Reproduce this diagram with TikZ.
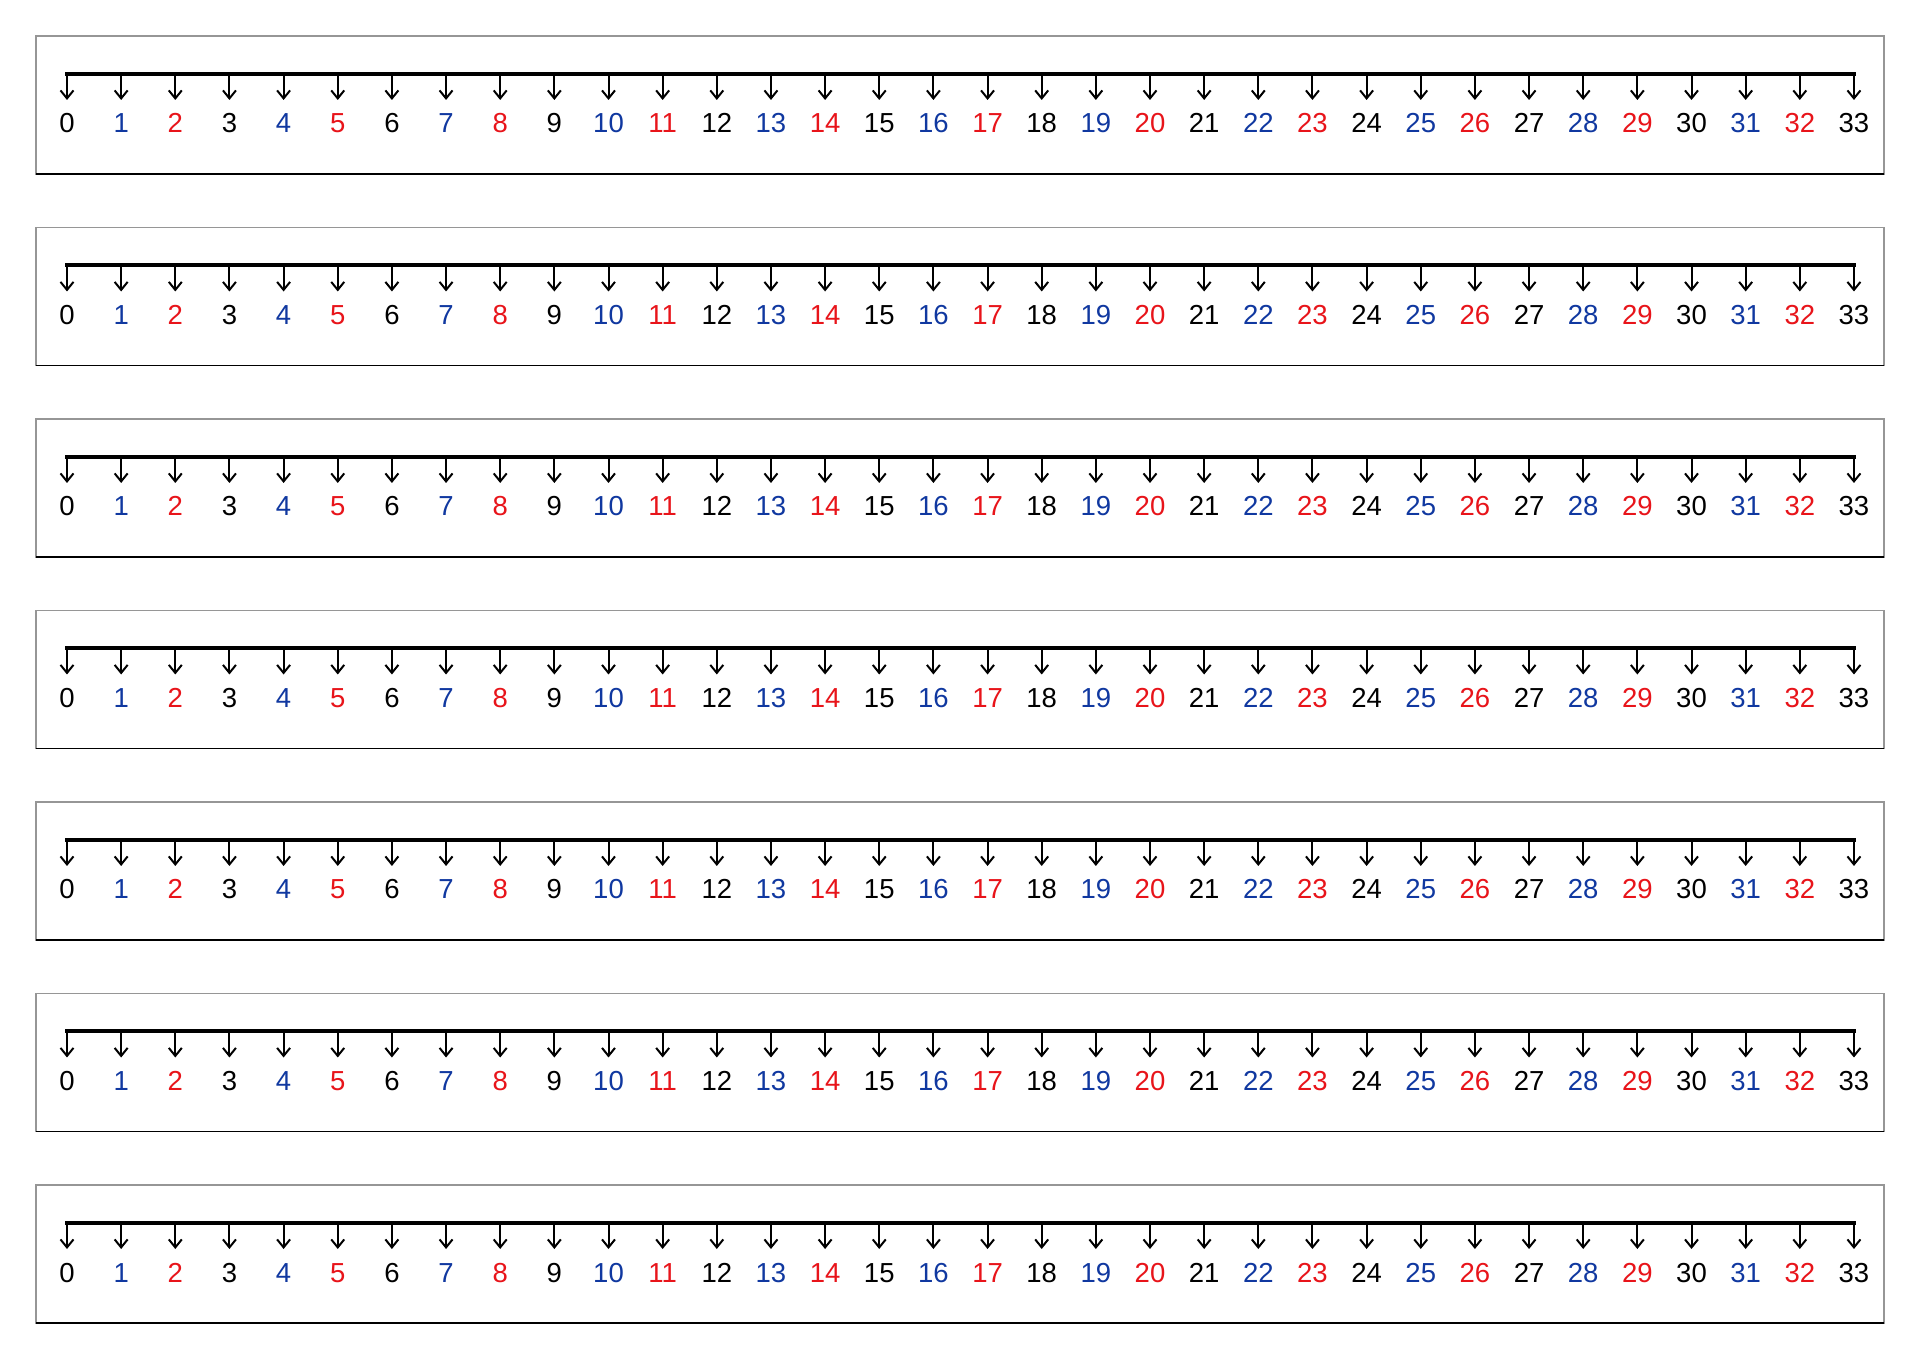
\documentclass[tikz,border=0pt]{standalone}
\usepackage{fontspec}
\setmainfont{Liberation Sans}
\usetikzlibrary{arrows.meta}
\definecolor{col0}{RGB}{0,0,0}
\definecolor{col1}{RGB}{16,56,160}
\definecolor{col2}{RGB}{232,20,26}
\definecolor{boxgray}{RGB}{150,150,150}
\begin{document}
\begin{tikzpicture}[x=1pt,y=1pt,
  stripbox/.style={draw=boxgray,line width=1.6pt},
  axisline/.style={line width=4pt,line cap=butt},
  tickarrow/.style={line width=2pt,-{Straight Barb[length=8pt,width=13pt,line width=2pt]}},
  numlabel/.style={inner sep=0pt,anchor=base,font=\fontsize{27.5}{33}\selectfont}]
\useasboundingbox[fill=white] (0,0) rectangle (1920,1358);
\foreach \r in {0,...,6} {
  \pgfmathsetmacro\topy{1358-36-191.5*\r}
  \pgfmathsetmacro\boty{\topy-138}
  \pgfmathsetmacro\liney{\topy-38}
  \pgfmathsetmacro\tipy{\topy-64}
  \pgfmathsetmacro\basey{\topy-97}
  \draw[stripbox] (36,\boty) rectangle (1884,\topy);
  \draw[line width=1.6pt,black] (36,\boty) -- (1884,\boty);
  \coordinate (L\r) at (65,\liney);
  \coordinate (R\r) at (1856,\liney);
  \draw[axisline] (L\r) -- (R\r);
  \foreach \i in {0,...,33} {
    \pgfmathsetmacro\xx{67+54.15*\i}
    \pgfmathtruncatemacro\m{mod(\i,3)}
    \coordinate (s\r-\i) at (\xx,\liney);
    \coordinate (t\r-\i) at (\xx,\tipy);
    \draw[tickarrow] (s\r-\i) -- (t\r-\i);
    \node[numlabel,text=col\m] (n\r-\i) at (\xx,\basey) {\i};
  }
}
\end{tikzpicture}
\end{document}
